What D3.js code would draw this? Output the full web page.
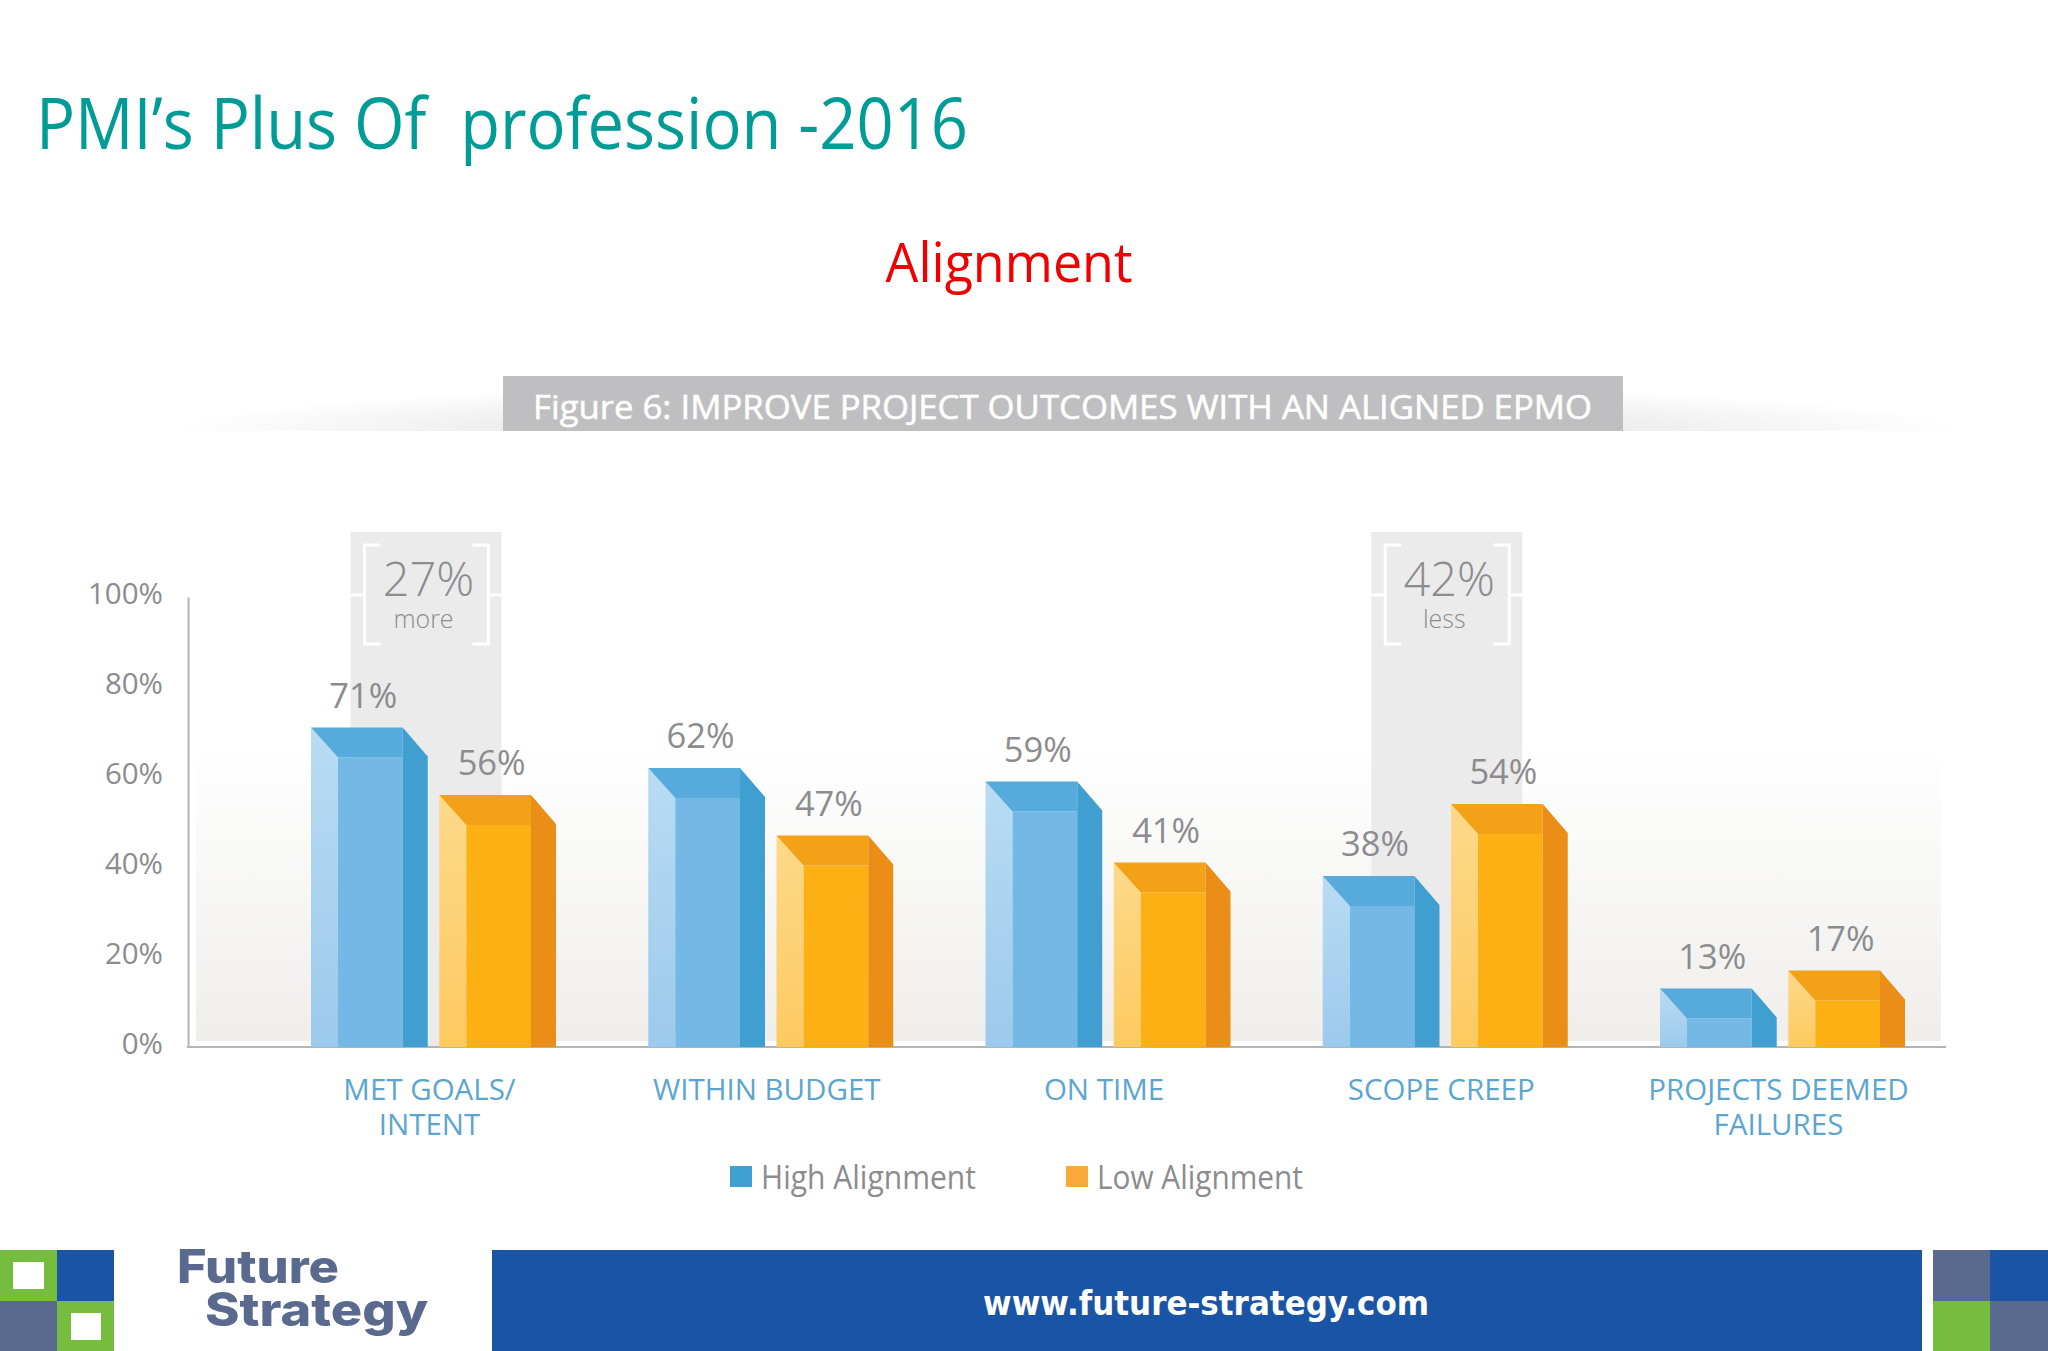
<!DOCTYPE html>
<html>
<head>
    <title>PMI's Pulse Of profession</title>
    <script src="https://d3js.org/d3.v7.min.js"></script>
    <style>
        html, body { margin: 0; padding: 0; background: #fff; }
        svg { display: block; }
        text { font-family: "Open Sans", sans-serif; }
    </style>
</head>
<body>
    <script>
        //****DATA****
        const categories = [["MET GOALS/", "INTENT"], ["WITHIN BUDGET"], ["ON TIME"], ["SCOPE CREEP"], ["PROJECTS DEEMED", "FAILURES"]];
        const categoryKeys = categories.map(c => c.join(" "));
        const seriesNames = ["High Alignment", "Low Alignment"];
        const highAlignment = [71, 62, 59, 38, 13];
        const lowAlignment = [56, 47, 41, 54, 17];
        const yTicks = [0, 20, 40, 60, 80, 100];
        const calloutCategories = ["MET GOALS/ INTENT", "SCOPE CREEP"];
        const calloutValues = ["27%", "42%"];
        const calloutWords = ["more", "less"];

        //****CANVAS****
        const width = 2048;
        const height = 1351;
        const baseY = 1047;
        const topY = 597;
        const greyText = "#8c8c8e";

        const svg = d3.select("body").append("svg")
            .attr("width", width)
            .attr("height", height);

        const defs = svg.append("defs");

        function addGradient(id, stops) {
            const g = defs.append("linearGradient").attr("id", id)
                .attr("x1", "0%").attr("y1", "0%").attr("x2", "0%").attr("y2", "100%");
            stops.forEach((c, i) => g.append("stop")
                .attr("offset", (i / (stops.length - 1) * 100) + "%")
                .attr("stop-color", c));
        }
        addGradient("panel", ["#ffffff", "#efeeeb"]);
        addGradient("sideHigh", ["#b9dcf3", "#9ccaec"]);
        addGradient("sideLow", ["#fdd98a", "#fdca60"]);

        const glow = defs.append("radialGradient").attr("id", "glow");
        glow.append("stop").attr("offset", "0%").attr("stop-color", "#e4e4e6");
        glow.append("stop").attr("offset", "65%").attr("stop-color", "#efeff0");
        glow.append("stop").attr("offset", "100%").attr("stop-color", "#ffffff");
        defs.append("clipPath").attr("id", "glowClip")
            .append("rect").attr("x", 0).attr("y", 370).attr("width", width).attr("height", 61);

        //****HEADINGS****
        svg.append("text")
            .attr("x", 36).attr("y", 149)
            .attr("textLength", 932).attr("lengthAdjust", "spacingAndGlyphs")
            .style("font-size", "72px")
            .style("fill", "#009c95")
            .attr("xml:space", "preserve")
            .text("PMI\u2019s Plus Of  profession -2016");

        svg.append("text")
            .attr("x", 1009).attr("y", 282)
            .attr("text-anchor", "middle")
            .attr("textLength", 247).attr("lengthAdjust", "spacingAndGlyphs")
            .style("font-size", "54px")
            .style("fill", "#f00000")
            .text("Alignment");

        svg.append("ellipse")
            .attr("cx", 1068).attr("cy", 431).attr("rx", 900).attr("ry", 50)
            .attr("clip-path", "url(#glowClip)")
            .style("fill", "url(#glow)");

        svg.append("rect")
            .attr("x", 503).attr("y", 376).attr("width", 1120).attr("height", 55)
            .style("fill", "#bfbfc1");

        svg.append("text")
            .attr("x", 533).attr("y", 419)
            .attr("textLength", 1059).attr("lengthAdjust", "spacingAndGlyphs")
            .style("font-size", "32px")
            .style("fill", "#ffffff")
            .style("stroke", "#ffffff")
            .style("stroke-width", 0.5)
            .text("Figure 6: IMPROVE PROJECT OUTCOMES WITH AN ALIGNED EPMO");

        //****SCALES****
        const xScale = d3.scaleBand()
            .domain(categoryKeys)
            .range([311, 1905])
            .paddingInner(0.2735);

        const innerScale = d3.scaleBand()
            .domain(seriesNames)
            .range([0, xScale.bandwidth()])
            .paddingInner(0.09);

        const yScale = d3.scaleLinear()
            .domain([0, 100])
            .range([baseY, topY]);

        //****PANEL BEHIND THE BARS****
        svg.append("rect")
            .attr("x", 196).attr("y", 745).attr("width", 1745).attr("height", 296)
            .style("fill", "url(#panel)");

        //****CALLOUTS****
        const calloutNudge = [-7, 2]; // bands in the original are not evenly spaced

        const callouts = svg.selectAll(".callout")
            .data(calloutCategories)
            .enter()
            .append("g")
            .attr("class", "callout")
            .attr("transform", (d, i) => `translate(${xScale(d) + xScale.bandwidth() / 2 + calloutNudge[i]}, 0)`);

        callouts.append("rect")
            .attr("x", -76).attr("y", 532).attr("width", 151).attr("height", baseY - 532)
            .style("fill", "#ebebec");

        // white brackets, with a short rule joining each one to the edge of the band
        callouts.append("path")
            .attr("d", "M-46,545H-62V644H-46 M46,545H62V644H46 M-76,595H-62 M62,595H75")
            .style("fill", "none")
            .style("stroke", "#ffffff")
            .style("stroke-width", 3);

        callouts.append("text")
            .attr("x", 2).attr("y", 596)
            .attr("text-anchor", "middle")
            .style("font-size", "47px")
            .style("font-weight", 300)
            .style("fill", greyText)
            .text((d, i) => calloutValues[i]);

        callouts.append("text")
            .attr("x", -3).attr("y", 628)
            .attr("text-anchor", "middle")
            .style("font-size", "25px")
            .style("font-weight", 300)
            .style("fill", greyText)
            .text((d, i) => calloutWords[i]);

        //****AXES****
        const yAxis = d3.axisLeft(yScale)
            .tickValues(yTicks)
            .tickFormat(d => d + "%")
            .tickSize(0)
            .tickPadding(25);

        const yGroup = svg.append("g")
            .attr("transform", "translate(188, 0)")
            .call(yAxis);
        yGroup.select(".domain").style("stroke", "#b4b4b7").style("stroke-width", 2);
        yGroup.selectAll("text")
            .attr("dy", "0.22em")
            .style("font-family", "'Open Sans', sans-serif")
            .style("font-size", "29.5px")
            .style("fill", greyText);

        svg.append("line")
            .attr("x1", 187).attr("x2", 1946)
            .attr("y1", yScale(0)).attr("y2", yScale(0))
            .style("stroke", "#b4b4b7")
            .style("stroke-width", 2);

        const xAxis = d3.axisBottom(xScale).tickSize(0).tickPadding(0);

        const xGroup = svg.append("g")
            .attr("transform", `translate(-4, ${baseY})`)
            .call(xAxis);
        xGroup.select(".domain").remove();
        xGroup.selectAll("text")
            .attr("y", 0).attr("dy", 0)
            .style("font-family", "'Open Sans', sans-serif")
            .style("font-size", "29.5px")
            .style("fill", "#5ba6d0")
            .text(null)
            .each(function(d, i) {
                d3.select(this).selectAll("tspan")
                    .data(categories[i])
                    .enter()
                    .append("tspan")
                    .attr("x", 0)
                    .attr("y", (l, j) => 53 + j * 35)
                    .text(l => l);
            });

        //****BARS****
        const sideW = 27;   // lit left face
        const rightW = 25;  // shaded right face
        const depth = 30;   // height of the top face

        const faces = {
            "High Alignment": { side: "url(#sideHigh)", front: "#74b8e6", top: "#56abdc", right: "#3f9fd0" },
            "Low Alignment": { side: "url(#sideLow)", front: "#fdb014", top: "#f3a116", right: "#ea8e18" }
        };

        const barData = categoryKeys.flatMap((c, i) => [
            { category: c, series: seriesNames[0], value: highAlignment[i] },
            { category: c, series: seriesNames[1], value: lowAlignment[i] }
        ]);

        const bars = svg.selectAll(".bar")
            .data(barData)
            .enter()
            .append("g")
            .attr("class", "bar")
            .attr("transform", d => `translate(${xScale(d.category) + innerScale(d.series)}, ${yScale(d.value)})`);

        const barW = innerScale.bandwidth();
        const barH = d => baseY - yScale(d.value);

        // left face
        bars.append("path")
            .attr("d", d => `M0,0L${sideW},${depth}V${barH(d)}H0Z`)
            .style("fill", d => faces[d.series].side);
        // front face
        bars.append("path")
            .attr("d", d => `M${sideW},${depth}H${barW - rightW}V${barH(d)}H${sideW}Z`)
            .style("fill", d => faces[d.series].front);
        // top face
        bars.append("path")
            .attr("d", `M0,0H${barW - rightW}V${depth}H${sideW}Z`)
            .style("fill", d => faces[d.series].top);
        // right face
        bars.append("path")
            .attr("d", d => `M${barW - rightW},0L${barW},${depth - 1}V${barH(d)}H${barW - rightW}Z`)
            .style("fill", d => faces[d.series].right);

        bars.append("text")
            .attr("x", barW / 2 - 6)
            .attr("y", -20)
            .attr("text-anchor", "middle")
            .style("font-size", "34.5px")
            .style("fill", greyText)
            .text(d => d.value + "%");

        //****LEGEND****
        const legend = svg.selectAll(".legend")
            .data(seriesNames)
            .enter()
            .append("g")
            .attr("class", "legend")
            .attr("transform", (d, i) => `translate(${730 + i * 336}, 1166)`);

        legend.append("rect")
            .attr("width", 22).attr("height", 21)
            .style("fill", (d, i) => ["#3fa0d2", "#f8a93a"][i]);

        legend.append("text")
            .attr("x", 31).attr("y", 23)
            .attr("textLength", (d, i) => [215, 206][i])
            .attr("lengthAdjust", "spacingAndGlyphs")
            .style("font-size", "32px")
            .style("fill", greyText)
            .text(d => d);

        //****FOOTER****
        const footerY = 1250;
        const slate = "#5a6a8e";
        const navy = "#1a54a4";
        const green = "#76bd3f";

        function block(x, y, w, h, fill) {
            svg.append("rect")
                .attr("x", x).attr("y", y).attr("width", w).attr("height", h)
                .style("fill", fill);
        }

        block(0, footerY, 57, 51, green);
        block(57, footerY, 57, 51, navy);
        block(0, footerY + 51, 57, 50, slate);
        block(57, footerY + 51, 57, 50, green);
        block(13, footerY + 12, 31, 27, "#ffffff");
        block(71, footerY + 63, 30, 27, "#ffffff");

        block(492, footerY, 1430, 101, navy);

        block(1933, footerY, 57, 51, slate);
        block(1990, footerY, 58, 51, navy);
        block(1933, footerY + 51, 57, 50, green);
        block(1990, footerY + 51, 58, 50, slate);

        svg.append("text")
            .attr("x", 177).attr("y", 1283)
            .attr("textLength", 162).attr("lengthAdjust", "spacingAndGlyphs")
            .style("font-family", "Inter, sans-serif")
            .style("font-size", "46px")
            .style("font-weight", 800)
            .style("fill", slate)
            .text("Future");

        svg.append("text")
            .attr("x", 205).attr("y", 1326)
            .attr("textLength", 223).attr("lengthAdjust", "spacingAndGlyphs")
            .style("font-family", "Inter, sans-serif")
            .style("font-size", "46px")
            .style("font-weight", 800)
            .style("fill", slate)
            .text("Strategy");

        svg.append("text")
            .attr("x", 983).attr("y", 1315)
            .attr("textLength", 446).attr("lengthAdjust", "spacingAndGlyphs")
            .style("font-family", "'DejaVu Sans', sans-serif")
            .style("font-size", "33px")
            .style("font-weight", 700)
            .style("fill", "#ffffff")
            .text("www.future-strategy.com");
    </script>
</body>
</html>
